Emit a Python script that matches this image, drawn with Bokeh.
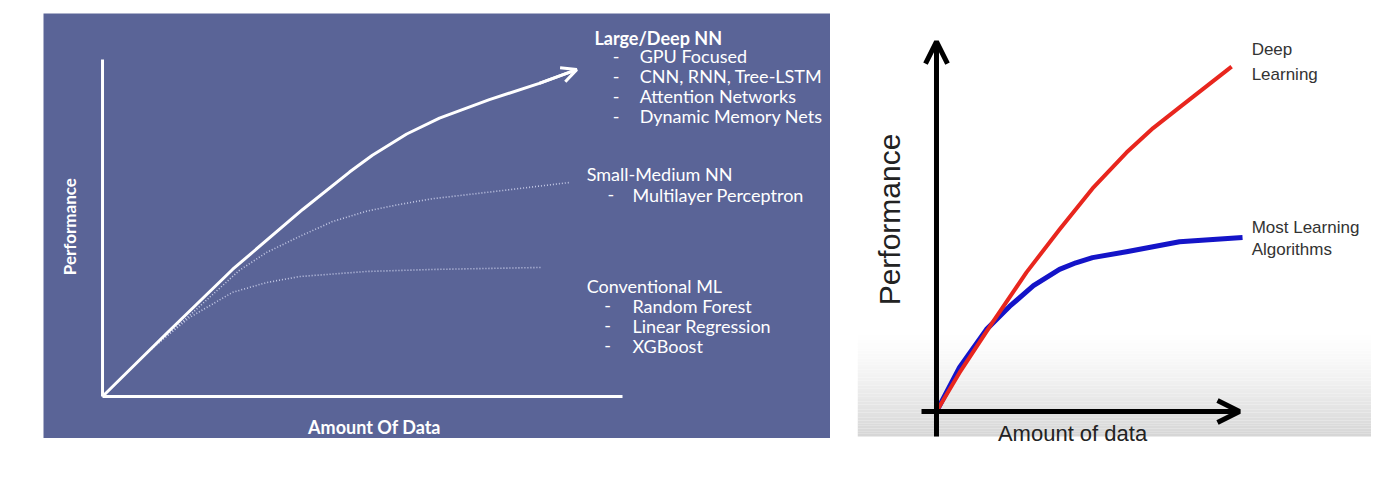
import numpy as np
from math import pi
from bokeh.plotting import figure
from bokeh.models import Range1d, Label, Arrow, OpenHead, Spacer
from bokeh.layouts import row, column
from bokeh.embed import file_html
from bokeh.resources import INLINE

# ---------------- Left panel data (amount of data 0-100, performance 0-100) ----------------
deep_x = [0, 12.3, 25.0, 38.5, 47.5, 51.9, 58.5, 64.8, 74.4, 84.0, 91.2]
deep_y = [0, 18.7, 37.7, 55.5, 66.6, 71.6, 77.9, 82.6, 88.1, 92.9, 97.0]
small_x = [9.0, 16.7, 26.3, 31.5, 37.9, 44.2, 50.8, 57.1, 63.5, 76.3, 89.8]
small_y = [13.6, 24.0, 37.4, 42.7, 47.5, 51.9, 55.0, 57.0, 58.7, 61.0, 63.5]
conv_x = [9.0, 16.7, 25.0, 31.5, 37.9, 50.8, 63.5, 84.6]
conv_y = [13.6, 23.4, 30.9, 33.8, 35.6, 37.1, 37.7, 38.3]
AXIS_MAX = 100

large_title = "Large/Deep NN"
large_items = ["GPU Focused", "CNN, RNN, Tree-LSTM", "Attention Networks", "Dynamic Memory Nets"]
small_title = "Small-Medium NN"
small_items = ["Multilayer Perceptron"]
conv_title = "Conventional ML"
conv_items = ["Random Forest", "Linear Regression", "XGBoost"]

# ---------------- Right panel data ----------------
dl_x = [0, 7.6, 18.5, 29.7, 40.6, 51.5, 62.7, 71.5, 80.2, 97.4]
dl_y = [0, 10.5, 24.1, 37.6, 49.2, 60.3, 70.0, 76.6, 82.2, 93.2]
ml_x = [0, 7.6, 16.5, 24.1, 32.0, 40.6, 46.0, 51.5, 62.7, 80.2, 101.0]
ml_y = [0, 11.9, 22.2, 28.4, 34.0, 38.4, 40.2, 41.6, 43.2, 45.9, 47.0]

BLUE = "#5A6497"
LFONT = "Lato"

# ================= LEFT FIGURE =================
left = figure(width=787, height=425, x_range=Range1d(-11.35, 140.0), y_range=Range1d(-12.46, 113.65),
              output_backend="svg", toolbar_location=None, min_border=0,
              x_axis_location=None, y_axis_location=None)
left.background_fill_color = BLUE
left.border_fill_color = BLUE
left.outline_line_color = None
left.grid.visible = False

# axis lines
left.segment(x0=[0, 0], y0=[0, 0], x1=[AXIS_MAX, 0], y1=[0, AXIS_MAX], line_color="white", line_width=3)

left.line(small_x, small_y, line_color="#c4c9e6", line_width=1.6, line_dash="1 2")
left.line(conv_x, conv_y, line_color="#c4c9e6", line_width=1.6, line_dash="1 2")
left.line(deep_x, deep_y, line_color="white", line_width=3, line_join="round")
left.add_layout(Arrow(end=OpenHead(size=15, line_color="white", line_width=3),
                      x_start=deep_x[-2], y_start=deep_y[-2], x_end=deep_x[-1], y_end=deep_y[-1],
                      line_color="white", line_width=3))

def ltext(x, y, t, bold=False, size="18px", **kw):
    left.add_layout(Label(x=x, y=y, text=t, text_color="white", text_font=LFONT,
                          text_font_size=size, text_font_style="bold" if bold else "normal",
                          text_baseline="middle", **kw))

ltext(94.6, 106.5, large_title, bold=True)
for i, t in enumerate(large_items):
    yy = 100.9 - i * 5.9
    ltext(98.1, yy, "-")
    ltext(103.3, yy, t)
ltext(93.1, 65.9, small_title)
for i, t in enumerate(small_items):
    ltext(97.1, 59.9 - i * 5.9, "-")
    ltext(101.9, 59.9 - i * 5.9, t)
ltext(93.1, 32.9, conv_title)
for i, t in enumerate(conv_items):
    yy = 26.9 - i * 5.9
    ltext(96.5, yy, "-")
    ltext(101.9, yy, t)

ltext(-6.35, 50.4, "Performance", bold=True, size="17px", angle=pi / 2, text_align="center")
ltext(52.3, -8.9, "Amount Of Data", bold=True, size="18px", text_align="center")

# ================= RIGHT FIGURE =================
right = figure(width=514, height=450, x_range=Range1d(-26.07, 143.56), y_range=Range1d(-14.05, 107.57),
               output_backend="svg", toolbar_location=None, min_border=0,
               x_axis_location=None, y_axis_location=None)
right.background_fill_color = "white"
right.border_fill_color = "white"
right.outline_line_color = None
right.grid.visible = False

# soft grey floor gradient (styling)
n = 40
edges = np.linspace(-6.76, 22.2, n + 1)
cols = []
for i in range(n):
    t = (i + 0.5) / n
    g = int(round(255 - 42 * (1 - t) ** 1.4))
    cols.append("#%02x%02x%02x" % (g, g, g))
right.quad(left=-26.07, right=143.56, bottom=edges[:-1], top=edges[1:], fill_color=cols,
           line_color=None)

right.line(ml_x, ml_y, line_color="#1414C8", line_width=5, line_join="round")
right.line(dl_x, dl_y, line_color="#E8261E", line_width=4, line_join="round")

right.add_layout(Arrow(end=OpenHead(size=22, line_color="black", line_width=5),
                       x_start=0, y_start=-6.76, x_end=0, y_end=100, line_color="black", line_width=5))
right.add_layout(Arrow(end=OpenHead(size=22, line_color="black", line_width=5),
                       x_start=-4.95, y_start=0, x_end=100, y_end=0, line_color="black", line_width=5))

def rtext(x, y, t, size="17px", color="#333333", font="Liberation Sans", **kw):
    right.add_layout(Label(x=x, y=y, text=t, text_color=color, text_font=font,
                           text_font_size=size, text_baseline="middle", **kw))

rtext(-15.5, 51.9, "Performance", size="30px", color="#222222", angle=pi / 2, text_align="center")
rtext(44.9, -5.95, "Amount of data", size="22px", color="#222222", text_align="center")
rtext(104.0, 97.8, "Deep")
rtext(104.0, 91.1, "Learning")
rtext(104.0, 49.7, "Most Learning")
rtext(104.0, 43.8, "Algorithms")

layout = column(Spacer(height=13), row(Spacer(width=43), left, Spacer(width=27), right))

open("out.html", "w").write(file_html(layout, INLINE))
